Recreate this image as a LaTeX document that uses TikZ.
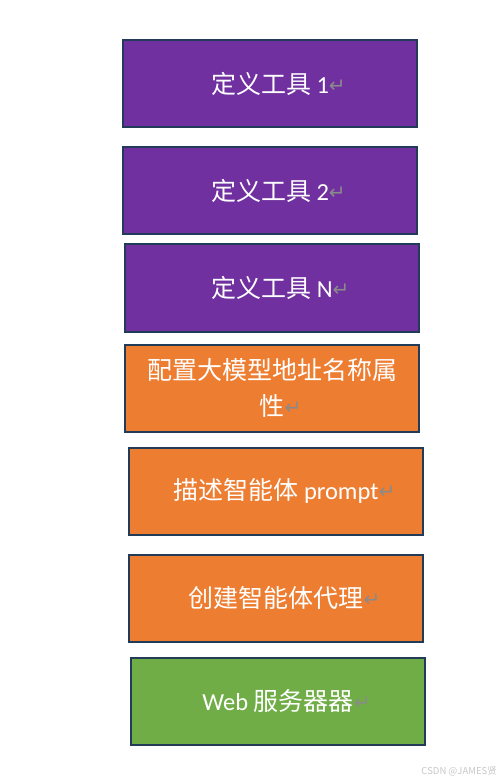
\documentclass[tikz,border=0pt]{standalone}
\usepackage{fontspec}
\setmainfont{Carlito}
\newfontfamily\cjk{Noto Sans CJK SC}
\newfontfamily\symfont{DejaVu Sans}
\definecolor{purp}{HTML}{7030A0}
\definecolor{orng}{HTML}{ED7D31}
\definecolor{grn}{HTML}{70AD47}
\definecolor{edge}{HTML}{223B59}
\definecolor{retgray}{HTML}{8A8A8A}
\definecolor{wmgray}{HTML}{C8C8C8}
\newcommand\zh[1]{{\cjk\fontsize{25}{36}\selectfont #1}}
\newcommand\retmark{\rlap{\raisebox{1pt}{\symfont\color{retgray}\fontsize{20}{20}\selectfont ↵}}}
\tikzset{
  stepbox/.style={draw=edge, line width=2pt, minimum width=294pt, minimum height=87pt,
    inner sep=0pt, text=white, align=center, font=\fontsize{24.5}{36}\selectfont},
}
\begin{document}
\begin{tikzpicture}[x=1pt,y=-1pt]
\useasboundingbox (0,0) rectangle (501,783);
\fill[white] (0,0) rectangle (501,783);
\node[stepbox, fill=purp] (t1) at (270,83.5) {\zh{定义工具} 1\retmark};
\node[stepbox, fill=purp] (t2) at (270,191) {\zh{定义工具} 2\retmark};
\node[stepbox, fill=purp] (t3) at (272,288) {\zh{定义工具} N\retmark};
\node[stepbox, fill=orng] (t4) at (272,388) {\zh{配置大模型地址名称属}\\\zh{性}\retmark};
\node[stepbox, fill=orng] (t5) at (276,491) {\zh{描述智能体} prompt\retmark};
\node[stepbox, fill=orng] (t6) at (276,598) {\zh{创建智能体代理}\retmark};
\node[stepbox, fill=grn] (t7) at (278,701) {Web \zh{服务器器}\retmark};
\node[anchor=east, inner sep=0pt, text=wmgray, font=\cjk\fontsize{9.5}{10}\selectfont] (wm) at (497,771) {CSDN @JAMES贤};
\end{tikzpicture}
\end{document}
